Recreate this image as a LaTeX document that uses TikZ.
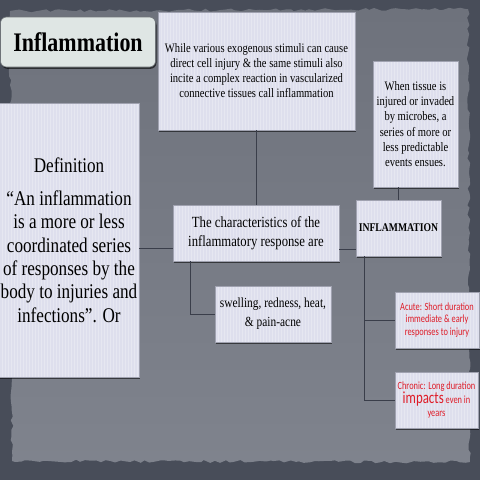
\documentclass[tikz,border=0pt]{standalone}
\usepackage{fontspec}
\setmainfont{Liberation Serif}[FakeStretch=0.82]
\newfontfamily\redsans{Carlito}[FakeStretch=0.76]
\usetikzlibrary{shadows,decorations.pathmorphing,calc}
\definecolor{bgdark}{RGB}{72,77,89}
\definecolor{papertop}{RGB}{110,114,124}
\definecolor{paperbot}{RGB}{127,131,141}
\definecolor{boxfill}{RGB}{222,223,237}
\definecolor{boxedge}{RGB}{160,162,176}
\definecolor{titlefill}{RGB}{223,230,228}
\definecolor{titleedge}{RGB}{110,115,120}
\definecolor{connline}{RGB}{58,62,74}
\definecolor{redtext}{RGB}{222,28,40}
\tikzset{
  stripes/.style={path picture={
    \foreach \i in {0,3,...,300}
      \draw[white,opacity=0.25,line width=0.8pt]
        ([xshift=\i pt]path picture bounding box.south west) --
        ([xshift=\i pt]path picture bounding box.north west);}},
  box/.style={draw=boxedge, line width=0.4pt, fill=boxfill, inner sep=0pt,
    align=center, text=black, stripes,
    drop shadow={shadow xshift=1.2pt, shadow yshift=-1.6pt, opacity=0.55, fill=black}},
  redbox/.style={box, text=redtext, font=\redsans\fontsize{11}{12.5}\selectfont},
  titlebox/.style={draw=titleedge, line width=0.6pt, fill=titlefill, rounded corners=6pt,
    inner sep=0pt, text=black, font=\bfseries\fontsize{26.8}{28}\selectfont,
    drop shadow={shadow xshift=1pt, shadow yshift=-1.8pt, opacity=0.6, fill=black}},
  conn/.style={draw=connline, line width=0.8pt}
}
\begin{document}
\begin{tikzpicture}[x=1pt,y=-1pt]
\useasboundingbox (0,0) rectangle (480,480);
\fill[bgdark] (0,0) rectangle (480,480);
\pgfmathsetseed{12}
\path[top color=papertop, bottom color=paperbot,
  decorate, decoration={random steps,segment length=5pt,amplitude=1.5pt}]
  (10,11) -- (468,9) -- (470,462) -- (12,461) -- cycle;

\node[titlebox, minimum width=155pt, minimum height=50pt] (title) at (78,42) {Inflammation};

\node[box, minimum width=197pt, minimum height=118pt, font=\fontsize{12.9}{15}\selectfont]
  (top) at (256.5,71) {While various exogenous stimuli can cause\\ direct cell injury \& the same stimuli also\\ incite a complex reaction in vascularized\\ connective tissues call inflammation};

\node[box, minimum width=85pt, minimum height=126pt, font=\fontsize{12.9}{15.3}\selectfont]
  (when) at (415.5,124) {When tissue is\\ injured or invaded\\ by microbes, a\\ series of more or\\ less predictable\\ events ensues.};

\node[box, minimum width=140pt, minimum height=274pt, font=\fontsize{20.9}{23.3}\selectfont]
  (defn) at (69,240) {Definition\\[10pt] “An inflammation\\ is a more or less\\ coordinated series\\ of responses by the\\ body to injuries and\\ infections”. Or};

\node[box, minimum width=166pt, minimum height=56pt, font=\fontsize{15.5}{19}\selectfont]
  (charac) at (256,233) {The characteristics of the\\ inflammatory response are};

\node[box, minimum width=85pt, minimum height=56pt, font=\bfseries\fontsize{11.8}{13}\selectfont]
  (infl) at (398.5,228) {INFLAMMATION};

\node[box, minimum width=116pt, minimum height=56pt, font=\fontsize{13.9}{19}\selectfont]
  (swell) at (273,314) {swelling, redness, heat,\\ \& pain-acne};

\node[redbox, minimum width=84pt, minimum height=56pt]
  (acute) at (437,320) {Acute: Short duration\\ immediate \& early\\ responses to injury};

\node[redbox, minimum width=83pt, minimum height=56pt]
  (chronic) at (436.5,400) {Chronic: Long duration\\ {\fontsize{17}{16}\selectfont impacts} even in\\ years};

\path ([yshift=-15pt]charac.west) coordinate (cw)
      ([yshift=-16pt]charac.east) coordinate (ce)
      ([xshift=-66pt]charac.south) coordinate (cs)
      ([xshift=-34.5pt]infl.south) coordinate (is);
\draw[conn] (cw) -- (cw -| defn.east);
\draw[conn] (ce) -- (ce -| infl.west);
\draw[conn] (top.south) -- (top.south |- charac.north);
\draw[conn] (cs) |- (swell.west);
\draw[conn] (infl.north) -- (infl.north |- when.south);
\draw[conn] (is) |- (acute.west);
\draw[conn] (is) |- (chronic.west);
\end{tikzpicture}
\end{document}
